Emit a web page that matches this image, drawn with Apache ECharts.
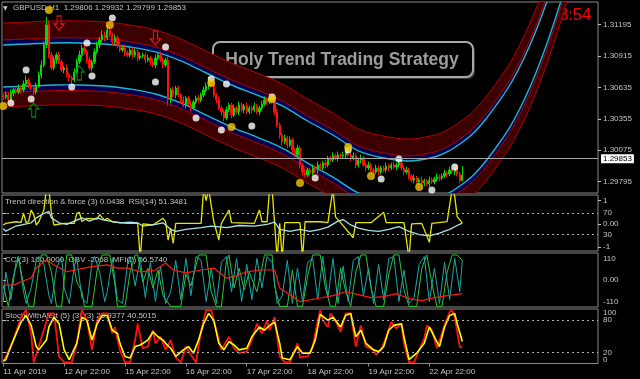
<!DOCTYPE html>
<html><head><meta charset="utf-8">
<script src="https://cdn.jsdelivr.net/npm/echarts@6/dist/echarts.min.js"></script>
<style>html,body{margin:0;padding:0;background:#000}#c{width:640px;height:379px}</style>
</head><body><div id="c"></div>
<script>
// ---------------- data ----------------
const slotCount = 235;                       // H1 time slots shown on the chart (incl. empty future)
const priceTicks = [1.29795, 1.30075, 1.30355, 1.30635, 1.30915, 1.31195];
const tickBars = [0, 24, 48, 72, 96, 120, 144, 168];
const tickTexts = ['11 Apr 2019', '12 Apr 22:00', '15 Apr 22:00', '16 Apr 22:00', '17 Apr 22:00', '18 Apr 22:00', '19 Apr 22:00', '22 Apr 22:00'];
const stochEdgeLabels = ['0', '100'];

const firstOpen = 1.30560;
const closes = [
1.30550,1.30568,1.30524,1.30586,1.30613,1.30595,1.30631,1.30613,1.30666,1.30702,
1.30657,1.30631,1.30595,1.30657,1.30747,1.30836,1.31014,1.31193,1.30925,1.30809,
1.30880,1.30925,1.30863,1.30791,1.30809,1.30747,1.30720,1.30702,1.30773,1.30863,
1.30925,1.30987,1.30952,1.30880,1.30809,1.30863,1.30952,1.31014,1.31059,1.31103,
1.31077,1.31148,1.31103,1.31041,1.31077,1.31014,1.30970,1.30987,1.30943,1.30925,
1.30970,1.30925,1.30952,1.30898,1.30916,1.30925,1.30880,1.30898,1.30863,1.30836,
1.30898,1.30925,1.30880,1.30836,1.30880,1.30524,1.30613,1.30568,1.30631,1.30568,
1.30524,1.30479,1.30541,1.30488,1.30452,1.30506,1.30541,1.30524,1.30568,1.30613,
1.30649,1.30684,1.30657,1.30568,1.30524,1.30452,1.30417,1.30363,1.30434,1.30479,
1.30390,1.30452,1.30417,1.30479,1.30434,1.30470,1.30417,1.30452,1.30434,1.30470,
1.30417,1.30452,1.30488,1.30524,1.30506,1.30541,1.30506,1.30417,1.30301,1.30211,
1.30149,1.30185,1.30122,1.30167,1.30078,1.30033,1.30095,1.29944,1.29881,1.29855,
1.29899,1.29872,1.29917,1.29899,1.29944,1.29917,1.29962,1.29944,1.30006,1.29989,
1.30026,1.30006,1.30033,1.30026,1.30033,1.30060,1.30033,1.30006,1.30026,1.29944,
1.29989,1.30006,1.29944,1.29917,1.29944,1.29899,1.29881,1.29917,1.29881,1.29917,
1.29899,1.29935,1.29917,1.29944,1.29926,1.29944,1.29962,1.29917,1.29881,1.29899,
1.29846,1.29810,1.29828,1.29792,1.29810,1.29783,1.29801,1.29774,1.29810,1.29792,
1.29819,1.29837,1.29828,1.29846,1.29872,1.29863,1.29899,1.29881,1.29917,1.29863,
1.29806,1.29853];
// wick lengths in pips above max(open,close) / below min(open,close)
const wickUp = [
2,3,2,3,2,2,3,2,3,4, 2,2,3,2,3,4,3,7,4,3, 3,2,3,2,2,3,2,2,3,3, 4,3,2,2,3,2,3,3,3,4,
3,5,4,2,3,2,3,2,3,2, 3,2,3,2,3,2,2,3,2,3, 3,2,3,2,2,3,2,3,2,2, 2,3,2,2,3,2,2,3,2,3,
3,4,3,2,2,3,2,2,3,2, 2,3,2,3,2,2,3,2,2,3, 2,2,3,3,2,4,2,2,3,2, 2,3,2,3,2,2,3,2,2,3,
2,2,3,2,3,2,2,3,2,2, 3,2,3,2,3,4,5,2,3,2, 2,3,2,2,3,2,2,3,2,2, 2,3,2,2,3,2,3,2,2,3,
2,2,3,2,2,3,2,2,3,2, 2,3,2,2,3,2,3,2,4,3, 2,8];
const wickDown = [
3,2,3,2,3,2,2,3,2,2, 3,2,3,2,2,3,2,3,3,2, 2,3,2,2,3,2,3,4,2,2, 2,3,2,3,2,3,2,2,3,2,
3,2,2,3,2,3,2,2,3,2, 2,3,2,3,2,2,3,2,3,2, 3,2,2,3,2,5,3,2,3,2, 3,2,3,2,3,2,2,3,2,2,
2,3,2,2,3,2,3,3,2,2, 3,2,2,3,2,3,2,2,3,2, 2,3,2,2,3,2,2,3,2,3, 3,2,3,2,3,2,2,3,3,2,
2,3,2,2,3,2,2,3,2,2, 2,2,3,2,2,3,2,3,2,3, 2,3,2,3,2,2,3,2,3,2, 2,2,3,2,2,3,2,2,3,2,
3,2,3,2,3,2,3,2,3,2, 2,2,3,2,2,3,2,2,3,2, 2,1];
const lastPrice = 1.29853;

// regression channel (inner cyan lines), sampled bars
const channelBars  = [0,10,20,30,40,50,60,70,80,90,100,110,120,130,140,150,160,170,175,180,185,190,195,200,205,210,215,220,225,230,234];
const channelUpper = [1.31014,1.31023,1.31032,1.31032,1.31023,1.30996,1.30952,1.30872,1.30764,1.30657,1.30568,1.30470,1.30336,1.30211,1.30069,1.30006,1.29979,1.30015,1.30060,1.30131,1.30220,1.30345,1.30497,1.30666,1.30880,1.31139,1.31442,1.31790,1.32183,1.32620,1.32977];
const channelLower = [1.30639,1.30648,1.30657,1.30657,1.30648,1.30621,1.30577,1.30497,1.30389,1.30282,1.30193,1.30095,1.29961,1.29836,1.29694,1.29631,1.29604,1.29640,1.29685,1.29756,1.29845,1.29970,1.30122,1.30291,1.30505,1.30764,1.31067,1.31415,1.31808,1.32245,1.32602];
const navyWidthUp = 0.00045, redWidthUp = 0.00196, navyWidthLow = 0.00050, redWidthLow = 0.00178;

const whiteDots = [[3,1.30497],[9,1.30791],[11,1.30533],[27,1.30640],[33,1.31032],[35,1.30738],[43,1.31255],[60,1.30684],[64,1.30996],[76,1.30363],[82,1.30711],[86,1.30256],[88,1.30666],[98,1.30292],[106,1.30550],[123,1.29828],[136,1.30078],[149,1.29819],[156,1.29997],[169,1.29720],[178,1.29926]];
const yellowDots = [[0,1.30470],[18,1.31326],[42,1.31193],[82,1.30675],[90,1.30283],[106,1.30533],[117,1.29783],[136,1.30104],[145,1.29846],[164,1.29748]];
const sellArrows = [[22,1.31210],[60,1.31077]];
const buyArrows = [[12,1.30434],[30,1.30764]];

// indicator panels: [bar, value]
const trendForce = [[0,-0.05],[1,0.02],[5,0.09],[7,0.06],[8,0.45],[9,0.05],[10,0.1],[11,0.6],[12,0.4],[13,-0.05],[14,0.09],[16,0.6],[17,1.5],[18,1.5],[19,0.45],[20,-0.05],[24,0.02],[28,0.02],[29,0.45],[30,0.5],[31,0.1],[33,0.24],[37,0.2],[38,0.4],[40,0.15],[41,0.24],[43,0.09],[49,0.02],[53,0.02],[54,-1.5],[55,0],[59,-0.05],[63,0.24],[64,0.1],[65,-0.7],[66,-0.2],[67,-0.84],[68,0.02],[78,0.02],[79,1.5],[80,1.0],[81,1.5],[83,0.1],[85,-0.7],[86,0.02],[89,0.6],[90,0.05],[99,0.02],[101,0.6],[102,0.09],[104,0.09],[105,1.5],[106,1.5],[108,-1.5],[109,0.02],[110,-1.5],[111,0.05],[117,0.05],[118,-1.5],[119,0.09],[125,0.09],[128,0.05],[130,1.5],[131,0.3],[133,0.05],[138,-0.6],[139,0.05],[145,0.05],[150,0.5],[151,0.05],[158,0.05],[160,-1.5],[161,0],[165,0.02],[168,-0.8],[169,0.02],[175,0.1],[177,1.5],[178,1.2],[179,0.3],[181,0.0438]];
const rsi14 = [[0,41],[1,36.5],[5,46],[11,52],[13,61],[16,69],[18,73],[19,61],[22,52],[25,49],[28,55],[31,61],[34,55],[37,61],[39,58],[42,55],[46,52],[50,53],[53,52],[55,46],[60,49],[63,52],[66,40],[68,36],[72,40],[78,43],[82,46],[84,45],[88,43],[93,47],[99,46],[104,49],[107,53],[109,40],[113,36],[117,40],[121,36],[125,40],[128,44],[132,55],[134,58],[137,48],[140,42],[144,38],[148,36],[152,40],[156,45],[160,36],[164,30],[168,28],[172,33],[176,40],[179,47],[181,51.35]];
const cci3 = [[0,-110],[1,40],[3,-100],[5,90],[6,120],[8,-60],[9,-120],[11,-40],[13,100],[14,120],[16,80],[18,-80],[19,-120],[21,60],[23,120],[24,-40],[26,-120],[28,70],[29,110],[31,-90],[33,-120],[35,90],[36,120],[38,40],[40,-110],[41,-60],[43,110],[45,-100],[47,-120],[49,80],[50,120],[52,-30],[54,110],[56,-90],[58,90],[60,-110],[62,70],[64,-120],[66,-60],[68,100],[70,-100],[72,110],[74,-80],[76,120],[78,100],[80,-110],[82,60],[84,-120],[86,90],[88,120],[90,-60],[92,110],[94,-110],[96,80],[98,-100],[100,110],[102,-40],[104,120],[106,90],[108,-120],[110,-80],[112,100],[114,-120],[116,60],[118,-110],[120,90],[122,110],[124,-100],[126,120],[128,-90],[130,110],[132,-120],[134,70],[136,-110],[138,100],[140,120],[142,-80],[144,60],[146,-120],[148,80],[150,-100],[152,110],[154,120],[156,-110],[158,50],[160,-120],[162,-90],[164,80],[166,120],[168,-110],[170,60],[172,-120],[174,90],[176,-100],[178,110],[180,-60],[181,100]];
const obv = [[0,-30],[2,-135],[4,20],[6,110],[8,-20],[10,-135],[12,-135],[14,60],[15,128],[17,128],[19,40],[21,-135],[23,-135],[25,128],[27,128],[29,-10],[31,-60],[32,-135],[35,-135],[37,50],[39,128],[42,128],[44,-20],[45,-135],[48,-135],[50,40],[52,128],[53,128],[55,-10],[57,60],[59,-40],[61,50],[63,-80],[66,-135],[70,-135],[72,30],[74,-30],[77,128],[80,128],[82,-60],[84,-135],[86,-135],[88,100],[89,128],[91,-40],[93,60],[95,-50],[97,40],[100,-60],[103,128],[106,128],[107,-30],[109,-135],[112,-135],[114,50],[116,-135],[118,-135],[120,20],[122,128],[125,128],[127,-40],[129,-135],[131,-135],[133,60],[135,-60],[137,-135],[139,40],[141,128],[143,128],[145,-40],[147,-135],[150,-135],[152,30],[154,128],[156,128],[158,-50],[160,-135],[163,-135],[165,60],[167,128],[169,-20],[171,-135],[173,-135],[175,40],[177,128],[179,128],[181,100]];
const mfi2 = [[0,-26],[4,-26],[7,-9],[11,10],[13,61],[16,94],[17,102],[20,77],[25,42],[30,56],[35,68],[41,77],[45,61],[49,61],[54,42],[60,51],[64,87],[67,51],[72,36],[78,51],[83,61],[88,10],[91,17],[96,42],[101,51],[107,51],[109,-41],[113,-77],[117,-111],[121,-102],[125,-92],[130,-80],[135,-60],[140,-75],[145,-90],[150,-85],[155,-70],[160,-95],[165,-105],[170,-90],[175,-80],[181,-70]];
const stochMain = [[0,2],[4,43],[7,85],[9,98],[11,55],[12,2],[14,31],[18,92],[20,92],[22,13],[24,2],[27,2],[29,37],[31,98],[33,79],[35,25],[37,79],[39,92],[41,92],[43,55],[44,67],[46,25],[48,2],[50,2],[52,43],[53,73],[55,28],[57,31],[59,61],[60,37],[62,49],[64,25],[66,43],[68,11],[70,2],[72,31],[74,16],[76,2],[78,61],[80,98],[82,98],[84,61],[86,25],[89,49],[91,28],[93,19],[96,22],[98,43],[100,73],[102,55],[104,79],[105,61],[107,85],[109,13],[111,2],[113,2],[116,37],[117,11],[120,13],[122,31],[124,79],[125,98],[126,79],[128,67],[129,92],[131,79],[133,58],[135,92],[137,92],[139,31],[141,70],[143,31],[146,25],[147,16],[149,25],[151,49],[153,76],[155,64],[157,73],[158,37],[160,2],[162,2],[164,25],[166,46],[167,70],[169,61],[171,28],[174,70],[176,95],[177,98],[178,85],[180,31],[181,28.94]];
const stochSignal = [[0,5],[1,7],[4,43],[7,76],[9,88],[11,70],[13,31],[14,25],[17,43],[18,67],[20,85],[22,73],[24,25],[26,7],[29,37],[31,85],[33,79],[35,43],[37,73],[39,88],[41,88],[43,61],[45,55],[46,37],[48,13],[50,10],[52,31],[54,34],[57,43],[59,58],[61,49],[63,43],[64,37],[66,28],[68,13],[71,25],[73,31],[75,19],[77,43],[79,73],[81,92],[83,79],[85,37],[87,25],[89,40],[91,34],[93,25],[96,28],[98,49],[101,67],[103,61],[105,70],[107,76],[109,37],[110,10],[113,7],[116,31],[118,19],[121,19],[123,43],[125,90],[128,79],[130,85],[133,67],[135,88],[137,92],[139,49],[141,61],[143,37],[146,25],[148,22],[150,31],[152,61],[154,70],[157,73],[158,49],[160,7],[163,19],[166,37],[168,67],[170,49],[172,31],[174,67],[176,88],[178,92],[179,73],[181,40.5]];

// ---------------- chart ----------------
const FONT = '"Liberation Sans", Arial, sans-serif';
const TXT = '#c4c4c4';
const FRAME = '#8a8a8a';
const PIP = 0.0001;

const slots = Array.from({length: slotCount}, (_, i) => String(i));
const candles = closes.map((c, i) => {
  const o = i === 0 ? firstOpen : closes[i - 1];
  return [o, c, Math.min(o, c) - wickDown[i] * PIP, Math.max(o, c) + wickUp[i] * PIP];
});

function curve(pts, move) {
  let d = (move ? 'M' : 'L') + pts[0][0] + ',' + pts[0][1];
  for (let i = 0; i < pts.length - 1; i++) {
    const p0 = pts[i - 1] || pts[i], p1 = pts[i], p2 = pts[i + 1], p3 = pts[i + 2] || pts[i + 1];
    const c1 = [p1[0] + (p2[0] - p0[0]) / 6, p1[1] + (p2[1] - p0[1]) / 6];
    const c2 = [p2[0] - (p3[0] - p1[0]) / 6, p2[1] - (p3[1] - p1[1]) / 6];
    d += 'C' + c1[0] + ',' + c1[1] + ' ' + c2[0] + ',' + c2[1] + ' ' + p2[0] + ',' + p2[1];
  }
  return d;
}
function renderBands(params, api) {
  if (params.dataIndex !== 0) return;
  const P = (arr, off) => channelBars.map((b, i) => api.coord([b, arr[i] + off]));
  const uC = P(channelUpper, 0), uN = P(channelUpper, navyWidthUp), uR = P(channelUpper, redWidthUp);
  const lC = P(channelLower, 0), lN = P(channelLower, -navyWidthLow), lR = P(channelLower, -redWidthLow);
  const band = (a, b) => curve(a, true) + curve(b.slice().reverse(), false) + 'Z';
  const stroke = (pts, color, w) => ({type: 'path', shape: {pathData: curve(pts, true)}, style: {fill: 'none', stroke: color, lineWidth: w}});
  const cs = params.coordSys;
  return {
    type: 'group',
    clipPath: {type: 'rect', shape: {x: cs.x, y: cs.y, width: cs.width, height: cs.height}},
    children: [
      {type: 'path', shape: {pathData: band(uR, uN)}, style: {fill: '#3c0000'}},
      {type: 'path', shape: {pathData: band(uN, uC)}, style: {fill: '#000050'}},
      {type: 'path', shape: {pathData: band(lC, lN)}, style: {fill: '#000050'}},
      {type: 'path', shape: {pathData: band(lN, lR)}, style: {fill: '#3c0000'}},
      stroke(uR, '#b40000', 1), stroke(uN, '#b40000', 1),
      stroke(lN, '#b40000', 1), stroke(lR, '#b40000', 1),
      stroke(uC, '#22b6cc', 1.4), stroke(lC, '#22b6cc', 1.4)
    ]
  };
}

const lbl = {color: TXT, fontSize: 8, fontFamily: FONT};
const zeroFmt = v => v === 0 ? '0.00' : String(v);
const grids = [
  {left: 2, width: 596, top: 2, height: 191},
  {left: 2, width: 596, top: 195, height: 56},
  {left: 2, width: 596, top: 253, height: 54},
  {left: 2, width: 596, top: 309, height: 54.5}
].map(g => Object.assign(g, {show: true, borderColor: FRAME, borderWidth: 1, backgroundColor: 'transparent'}));

const valX = (gi) => ({type: 'value', gridIndex: gi, min: -0.5, max: slotCount - 0.5, show: false});
const plainY = (gi, min, max, vals, fmt, ticks) => ({
  type: 'value', gridIndex: gi, position: 'right', min: min, max: max,
  axisLine: {show: false}, splitLine: {show: false},
  axisTick: {show: ticks !== false, customValues: vals, length: 3, lineStyle: {color: TXT}},
  axisLabel: Object.assign({customValues: vals, margin: 5, formatter: fmt}, lbl)
});
const option = {
  backgroundColor: '#000',
  animation: false,
  grid: grids,
  xAxis: [
    {type: 'category', gridIndex: 0, data: slots, boundaryGap: true, show: false},
    valX(1), valX(2),
    {type: 'value', gridIndex: 3, min: -0.5, max: slotCount - 0.5,
     axisLine: {show: false}, splitLine: {show: false},
     axisTick: {show: true, customValues: tickBars, length: 3, lineStyle: {color: FRAME}},
     axisLabel: Object.assign({customValues: tickBars, align: 'left', margin: 4,
       formatter: v => tickTexts[tickBars.indexOf(v)]}, lbl)}
  ],
  yAxis: [
    plainY(0, 1.29694, 1.31397, priceTicks, v => v.toFixed(5)),
    plainY(1, 0, 103.2, [30, 70], v => String(v)),
    plainY(1, -1.173, 1.246, [-1, 0, 1], zeroFmt),
    plainY(2, -138, 138, [-110, 0, 110], zeroFmt),
    plainY(3, 0, 100, [20, 80], v => String(v)),
    // MT4 keeps the 0/100 captions inside the sub-window
    plainY(3, -9, 109, [0, 100], v => v === 0 ? stochEdgeLabels[0] : stochEdgeLabels[1], false)
  ],
  series: [
    {type: 'custom', xAxisIndex: 0, yAxisIndex: 0, z: 1, silent: true, clip: true,
     renderItem: renderBands, data: [[0, closes[0]]], encode: {x: 0, y: 1}},
    {type: 'candlestick', xAxisIndex: 0, yAxisIndex: 0, z: 2, barWidth: 1.8, data: candles,
     itemStyle: {color: '#00dc00', color0: '#ff1010', borderColor: '#00dc00', borderColor0: '#ff1010', borderWidth: 1},
     markLine: {silent: true, symbol: 'none', animation: false,
       lineStyle: {color: '#a8a8a8', width: 1, type: 'solid'},
       label: {position: 'end', distance: 3, formatter: () => lastPrice.toFixed(5), color: '#000', backgroundColor: '#fff',
               padding: [1, 2, 0, 2], fontSize: 8, fontFamily: FONT},
       data: [{yAxis: lastPrice}]}},
    {type: 'scatter', xAxisIndex: 0, yAxisIndex: 0, z: 3, symbolSize: 7, data: whiteDots, itemStyle: {color: '#ffffff'}},
    {type: 'scatter', xAxisIndex: 0, yAxisIndex: 0, z: 3, symbolSize: 8, data: yellowDots, itemStyle: {color: '#f5c400'}},
    {type: 'scatter', xAxisIndex: 0, yAxisIndex: 0, z: 3, symbol: 'path://M3,0L7,0L7,8L10,8L5,14L0,8L3,8Z', symbolSize: [10, 14],
     data: sellArrows, itemStyle: {color: 'rgba(0,0,0,0)', borderColor: '#ff2020', borderWidth: 1.2}},
    {type: 'scatter', xAxisIndex: 0, yAxisIndex: 0, z: 3, symbol: 'path://M5,0L10,6L7,6L7,14L3,14L3,6L0,6Z', symbolSize: [10, 14],
     data: buyArrows, itemStyle: {color: 'rgba(0,0,0,0)', borderColor: '#00a800', borderWidth: 1.2}},

    {type: 'line', xAxisIndex: 1, yAxisIndex: 2, data: trendForce, showSymbol: false, lineStyle: {color: '#e6e600', width: 1.3}},
    {type: 'line', xAxisIndex: 1, yAxisIndex: 1, data: rsi14, showSymbol: false, lineStyle: {color: '#a6e4ee', width: 1.3},
     markLine: {silent: true, symbol: 'none', label: {show: false}, lineStyle: {color: '#b0b0b0', type: [2, 3], width: 1}, data: [{yAxis: 70}, {yAxis: 30}]}},

    {type: 'line', xAxisIndex: 2, yAxisIndex: 3, data: obv, showSymbol: false, lineStyle: {color: '#2ec82e', width: 1}},
    {type: 'line', xAxisIndex: 2, yAxisIndex: 3, data: cci3, showSymbol: false, lineStyle: {color: '#1fa6a6', width: 1}},
    {type: 'line', xAxisIndex: 2, yAxisIndex: 3, data: mfi2, showSymbol: false, lineStyle: {color: '#ff1a1a', width: 1.2}},

    {type: 'line', xAxisIndex: 3, yAxisIndex: 4, data: stochMain, showSymbol: false, lineStyle: {color: '#ff1010', width: 1.8},
     markLine: {silent: true, symbol: 'none', label: {show: false}, lineStyle: {color: '#b0b0b0', type: [2, 3], width: 1}, data: [{yAxis: 80}, {yAxis: 20}]}},
    {type: 'line', xAxisIndex: 3, yAxisIndex: 4, data: stochSignal, showSymbol: false, lineStyle: {color: '#ffff00', width: 1.6}}
  ],
  graphic: [
    {type: 'text', x: 3, y: 8, style: {text: '▼', fill: TXT, fontSize: 6, fontFamily: '"DejaVu Sans"', verticalAlign: 'middle'}},
    {type: 'text', x: 13, y: 8, style: {text: 'GBPUSD,H1  1.29806 1.29932 1.29799 1.29853', fill: TXT, fontSize: 8, fontFamily: FONT, verticalAlign: 'middle'}},
    {type: 'text', x: 5, y: 202, style: {text: 'Trend direction & force (3) 0.0438  RSI(14) 51.3481', fill: TXT, fontSize: 8, fontFamily: FONT, verticalAlign: 'middle'}},
    {type: 'text', x: 5, y: 260, style: {text: 'CCI(3) 100.0000  OBV -2068  MFI(2) 56.5740', fill: TXT, fontSize: 8, fontFamily: FONT, verticalAlign: 'middle'}},
    {type: 'text', x: 5, y: 316, style: {text: 'StochWithAlert (5) (3) (3) 28.9377 40.5015', fill: TXT, fontSize: 8, fontFamily: FONT, verticalAlign: 'middle'}},
    {type: 'text', x: 559, y: 15, style: {text: '3:54', fill: '#ff0000', fontSize: 16.5, fontFamily: FONT, verticalAlign: 'middle'}},
    {type: 'rect', shape: {x: 215, y: 44, width: 260, height: 35, r: 7}, style: {fill: '#3a3a3a'}},
    {type: 'rect', shape: {x: 213, y: 42, width: 260, height: 35, r: 7}, style: {fill: '#000', stroke: '#a8a8a8', lineWidth: 2}},
    {type: 'text', x: 342, y: 60, style: {text: 'Holy Trend Trading Strategy', fill: '#9c9c9c', fontSize: 17.5, fontWeight: 'bold', fontFamily: FONT, align: 'center', verticalAlign: 'middle'}}
  ]
};
const chart = echarts.init(document.getElementById('c'), null, {renderer: 'canvas'});
chart.setOption(option);
</script>
</body></html>
